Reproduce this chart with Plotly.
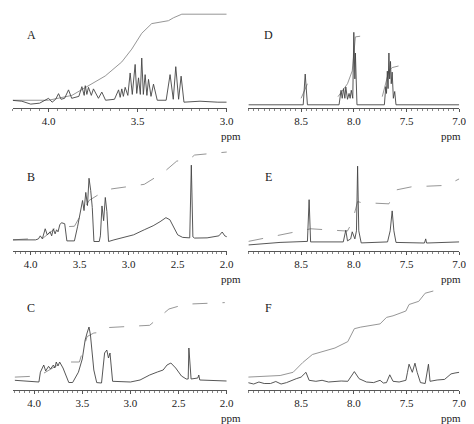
import plotly.graph_objects as go

# ---- panel A (3.0 - 4.2 ppm)
a_x = [4.21, 4.15, 4.10, 4.05, 4.00, 3.98, 3.96, 3.944, 3.93, 3.91, 3.888, 3.87, 3.83, 3.813, 3.80, 3.794, 3.785,
       3.776, 3.76, 3.748, 3.72, 3.701, 3.68, 3.63, 3.607, 3.598, 3.589, 3.58, 3.570, 3.555, 3.542, 3.53, 3.514,
       3.505, 3.495, 3.485, 3.477, 3.468, 3.458, 3.448, 3.439, 3.425, 3.411, 3.39, 3.34, 3.318, 3.30, 3.286, 3.27,
       3.256, 3.24, 3.15, 3.05, 3.0]
a_y = [0.08, 0.07, 0.04, 0.05, 0.10, 0.06, 0.09, 0.148, 0.09, 0.10, 0.187, 0.10, 0.12, 0.22, 0.13, 0.23, 0.14,
       0.213, 0.13, 0.197, 0.10, 0.164, 0.08, 0.09, 0.187, 0.11, 0.197, 0.12, 0.213, 0.13, 0.361, 0.14, 0.449,
       0.15, 0.311, 0.14, 0.515, 0.14, 0.344, 0.13, 0.295, 0.12, 0.246, 0.08, 0.08, 0.344, 0.09, 0.426, 0.09,
       0.328, 0.06, 0.07, 0.06, 0.06]
a_int_x = [4.206, 4.0, 3.869, 3.776, 3.682, 3.589, 3.533, 3.477, 3.421, 3.327, 3.299, 3.252, 3.0]
a_int_y = [0.08, 0.08, 0.13, 0.23, 0.33, 0.475, 0.607, 0.77, 0.87, 0.90, 0.93, 0.967, 0.967]

# ---- panel B (2.0 - 4.2 ppm)
b_x = [4.18, 3.95, 3.92, 3.901, 3.88, 3.851, 3.83, 3.801, 3.785, 3.768, 3.75, 3.735, 3.72, 3.702, 3.685, 3.652,
       3.63, 3.60, 3.553, 3.520, 3.49, 3.470, 3.455, 3.437, 3.42, 3.404, 3.387, 3.371, 3.354, 3.30, 3.288, 3.272,
       3.255, 3.238, 3.222, 3.205, 3.15, 3.073, 2.95, 2.841, 2.75, 2.68, 2.62, 2.58, 2.543, 2.50, 2.45, 2.40,
       2.377, 2.361, 2.345, 2.328, 2.20, 2.08, 2.046, 2.02, 1.997]
b_y = [0.11, 0.11, 0.12, 0.15, 0.12, 0.22, 0.16, 0.19, 0.15, 0.22, 0.17, 0.21, 0.19, 0.26, 0.28, 0.27,
       0.10, 0.10, 0.10, 0.245, 0.38, 0.50, 0.40, 0.58, 0.45, 0.72, 0.60, 0.43, 0.094, 0.094, 0.15, 0.446,
       0.30, 0.53, 0.39, 0.094, 0.11, 0.128, 0.16, 0.21, 0.25, 0.29, 0.33, 0.31, 0.24, 0.16, 0.135, 0.128,
       0.13, 0.85, 0.14, 0.128, 0.13, 0.15, 0.188, 0.15, 0.14]
b_int_x = [4.18, 3.87, 3.735, 3.553, 3.404, 3.238, 3.172, 2.841, 2.642, 2.510, 2.377, 2.328, 1.997]
b_int_y = [0.11, 0.13, 0.235, 0.245, 0.50, 0.60, 0.615, 0.66, 0.78, 0.89, 0.91, 0.95, 0.98]

# ---- panel C (2.0 - 4.2 ppm)
c_x = [4.20, 3.95, 3.935, 3.90, 3.88, 3.85, 3.83, 3.80, 3.785, 3.77, 3.752, 3.735, 3.70, 3.64, 3.60, 3.57, 3.54,
       3.50, 3.47, 3.45, 3.43, 3.415, 3.40, 3.38, 3.35, 3.30, 3.268, 3.245, 3.228, 3.212, 3.185, 3.0, 2.90, 2.80,
       2.72, 2.66, 2.62, 2.58, 2.53, 2.47, 2.42, 2.40, 2.393, 2.37, 2.30, 2.29, 2.28, 2.0]
c_y = [0.097, 0.08, 0.178, 0.25, 0.19, 0.237, 0.21, 0.25, 0.22, 0.28, 0.24, 0.28, 0.22, 0.075, 0.075, 0.13,
       0.178, 0.31, 0.50, 0.57, 0.63, 0.55, 0.37, 0.20, 0.074, 0.07, 0.37, 0.40, 0.32, 0.37, 0.087, 0.08, 0.10,
       0.15, 0.18, 0.20, 0.25, 0.27, 0.22, 0.14, 0.11, 0.11, 0.42, 0.11, 0.12, 0.15, 0.10, 0.09]
c_int_x = [4.20, 3.95, 3.70, 3.53, 3.45, 3.38, 3.26, 3.22, 2.80, 2.70, 2.60, 2.43, 2.02]
c_int_y = [0.129, 0.14, 0.28, 0.28, 0.534, 0.57, 0.58, 0.625, 0.647, 0.728, 0.81, 0.858, 0.874]

# ---- panel D (7.0 - 9.0 ppm)
d_x = [9.0, 8.48, 8.461, 8.44, 8.14, 8.121, 8.11, 8.097, 8.085, 8.076, 8.06, 8.045, 8.035, 8.024, 8.01, 8.0,
       7.99, 7.985, 7.97, 7.71, 7.697, 7.69, 7.682, 7.675, 7.667, 7.66, 7.652, 7.645, 7.636, 7.625, 7.612, 7.6, 7.0]
d_y = [0.033, 0.033, 0.35, 0.033, 0.033, 0.183, 0.10, 0.20, 0.10, 0.217, 0.09, 0.15, 0.10, 0.183, 0.10, 0.78,
       0.30, 0.567, 0.033, 0.033, 0.22, 0.15, 0.38, 0.20, 0.567, 0.30, 0.48, 0.25, 0.37, 0.10, 0.17, 0.033, 0.033]
d_int1_x = [8.50, 8.465, 8.44]
d_int1_y = [0.10, 0.20, 0.25]
d_int2_x = [8.15, 8.06, 8.015, 7.985, 7.94]
d_int2_y = [0.117, 0.25, 0.383, 0.733, 0.74]
d_int3_x = [7.73, 7.667, 7.636, 7.576]
d_int3_y = [0.117, 0.383, 0.417, 0.433]

# ---- panel E (7.0 - 9.0 ppm)
e_x = [9.0, 8.7, 8.44, 8.424, 8.41, 8.1, 8.076, 8.06, 8.03, 8.015, 7.99, 7.975, 7.964, 7.953, 7.93, 7.68,
       7.655, 7.636, 7.62, 7.6, 7.33, 7.318, 7.31, 7.0]
e_y = [0.06, 0.085, 0.095, 0.508, 0.09, 0.09, 0.206, 0.10, 0.12, 0.19, 0.12, 0.20, 0.84, 0.20, 0.08, 0.09,
       0.20, 0.397, 0.20, 0.085, 0.079, 0.12, 0.079, 0.09]
e_int_x = [9.0, 8.439, 8.409, 8.061, 8.015, 7.964, 7.933, 7.667, 7.606, 7.455, 7.121, 7.0]
e_int_y = [0.095, 0.216, 0.22, 0.197, 0.286, 0.49, 0.48, 0.467, 0.603, 0.635, 0.65, 0.714]

# ---- panel F (7.0 - 9.0 ppm)
f_x = [9.005, 8.95, 8.90, 8.85, 8.79, 8.74, 8.69, 8.638, 8.546, 8.5, 8.454, 8.424, 8.36, 8.301, 8.24, 8.179,
       8.12, 8.057, 7.995, 7.95, 7.88, 7.812, 7.751, 7.72, 7.69, 7.659, 7.628, 7.57, 7.506, 7.491, 7.476, 7.445,
       7.42, 7.399, 7.368, 7.323, 7.292, 7.277, 7.21, 7.139, 7.078, 7.04, 7.0]
f_y = [0.074, 0.06, 0.08, 0.065, 0.065, 0.085, 0.06, 0.074, 0.113, 0.129, 0.177, 0.097, 0.087, 0.097, 0.08,
       0.087, 0.09, 0.087, 0.184, 0.113, 0.08, 0.074, 0.097, 0.07, 0.074, 0.152, 0.087, 0.08, 0.097, 0.177,
       0.258, 0.177, 0.268, 0.177, 0.074, 0.065, 0.258, 0.087, 0.10, 0.106, 0.161, 0.17, 0.177]
f_int_x = [9.005, 8.699, 8.576, 8.485, 8.393, 8.179, 8.057, 7.995, 7.934, 7.751, 7.69, 7.628, 7.506, 7.476,
           7.384, 7.323, 7.246]
f_int_y = [0.129, 0.145, 0.177, 0.274, 0.355, 0.42, 0.484, 0.613, 0.629, 0.661, 0.726, 0.742, 0.79, 0.855,
           0.887, 0.968, 0.99]

labels = ["A", "B", "C", "D", "E", "F"]
spectra = [(a_x, a_y), (b_x, b_y), (c_x, c_y), (d_x, d_y), (e_x, e_y), (f_x, f_y)]
integrals = [[(a_int_x, a_int_y)], [(b_int_x, b_int_y)], [(c_int_x, c_int_y)],
             [(d_int1_x, d_int1_y), (d_int2_x, d_int2_y), (d_int3_x, d_int3_y)],
             [(e_int_x, e_int_y)], [(f_int_x, f_int_y)]]
x_ranges = [[4.2, 3.0], [4.18, 2.0], [4.22, 2.0], [9.0, 7.0], [9.0, 7.0], [9.0, 7.0]]
x_ticks = [[4.0, 3.5, 3.0], [4.0, 3.5, 3.0, 2.5, 2.0], [4.0, 3.5, 3.0, 2.5, 2.0],
           [8.5, 8.0, 7.5, 7.0], [8.5, 8.0, 7.5, 7.0], [8.5, 8.0, 7.5, 7.0]]

H = 424.0
W = 474.0
# pixel rows: (top, axis)
rows = [(3, 100), (142, 243), (282, 382)]
cols = [(5, 222), (244, 458)]

fig = go.Figure()
layout = {}
font = dict(family="Liberation Serif, Times New Roman, serif", size=11, color="#222")
annotations = []
for i in range(6):
    r, c = i % 3, i // 3
    top, ax = rows[r]
    left, right = cols[c]
    n = "" if i == 0 else str(i + 1)
    xa, ya = "x" + n, "y" + n
    for xs, ys in integrals[i]:
        fig.add_trace(go.Scatter(x=xs, y=ys, mode="lines", xaxis=xa, yaxis=ya,
                                 line=dict(color="#8a8a8a", width=0.9, dash="longdash" if i in (1, 2, 4) else "solid"),
                                 hoverinfo="skip", showlegend=False))
    sx, sy = spectra[i]
    fig.add_trace(go.Scatter(x=sx, y=sy, mode="lines", xaxis=xa, yaxis=ya,
                             line=dict(color="#444", width=0.9), showlegend=False))
    layout["xaxis" + n] = dict(domain=[left / W, right / W], range=x_ranges[i], anchor=ya,
                               tickvals=x_ticks[i], ticktext=["%.1f" % t for t in x_ticks[i]],
                               showline=True, linecolor="#555", linewidth=1, ticks="outside", ticklen=3,
                               tickcolor="#555", minor=dict(dtick=0.05, ticks="outside", ticklen=2, tickcolor="#888"),
                               showgrid=False, zeroline=False, tickfont=font)
    layout["yaxis" + n] = dict(domain=[1 - ax / H, 1 - top / H], range=[0, 1.0], anchor=xa,
                               visible=False, showgrid=False, zeroline=False)
    annotations.append(dict(text=labels[i], x=(left + 12 if c == 0 else left + 20) / W,
                            y=1 - (top + 15 if r == 0 else top + 27) / H,
                            xref="paper", yref="paper", showarrow=False, font=dict(font, size=12)))
    annotations.append(dict(text="ppm", x=(right + 4) / W, y=1 - (ax + 20) / H, xref="paper", yref="paper",
                            xanchor="right" if c == 1 else "center", yanchor="top", showarrow=False, font=font))

fig.update_layout(**layout)
fig.update_layout(width=474, height=424, margin=dict(l=0, r=0, t=0, b=0),
                  plot_bgcolor="white", paper_bgcolor="white", annotations=annotations)
fig.write_html("out.html")
